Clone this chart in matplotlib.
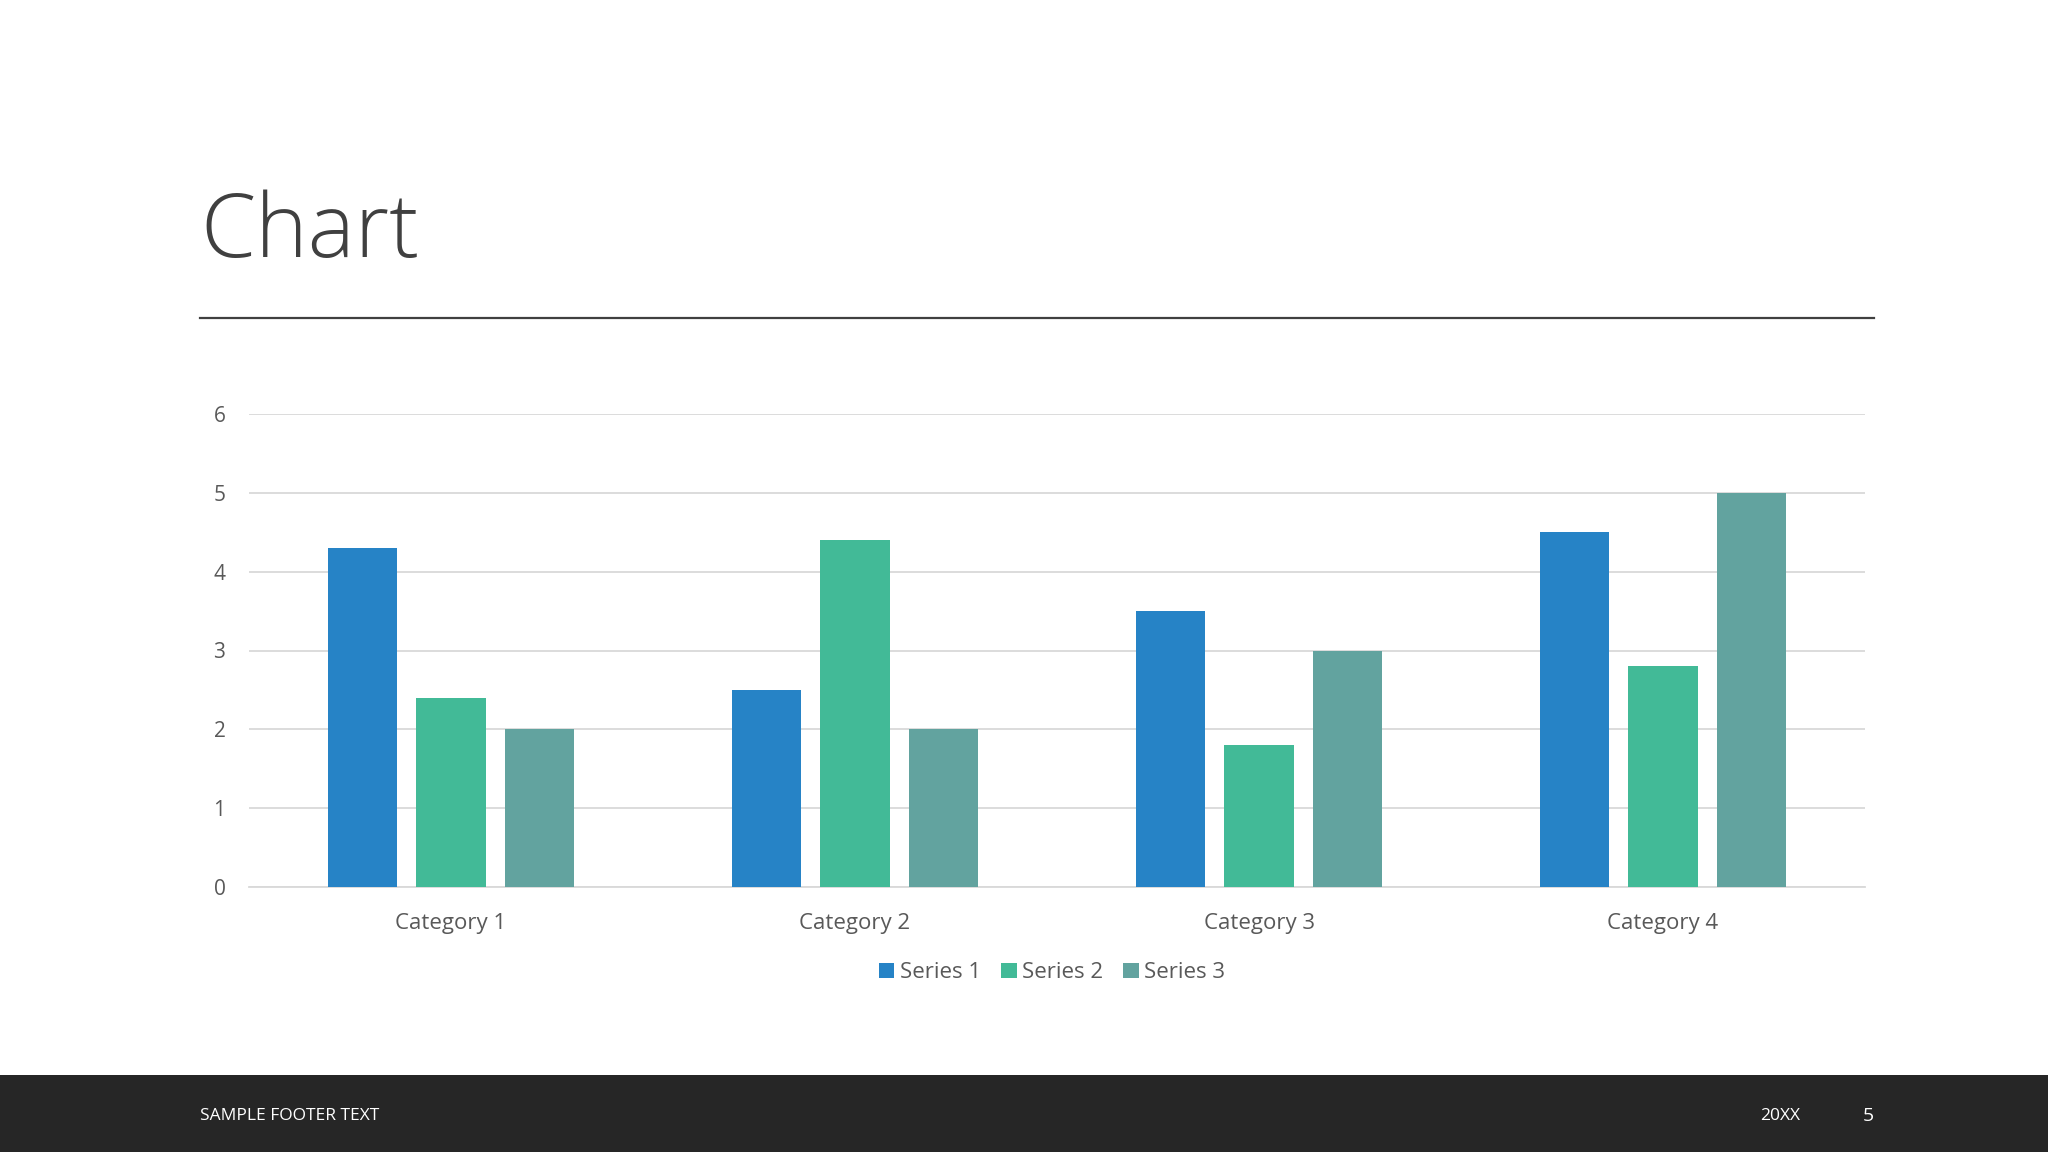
import matplotlib
matplotlib.use("Agg")
import matplotlib.pyplot as plt
import numpy as np
from matplotlib.patches import Rectangle
from matplotlib.lines import Line2D

plt.rcParams['font.family'] = ['Open Sans', 'DejaVu Sans']

categories = ["Category 1", "Category 2", "Category 3", "Category 4"]
series_names = ["Series 1", "Series 2", "Series 3"]
series1 = [4.3, 2.5, 3.5, 4.5]
series2 = [2.4, 4.4, 1.8, 2.8]
series3 = [2.0, 2.0, 3.0, 5.0]
colors = ["#2683C6", "#42BA97", "#62A39F"]
yticks = [0, 1, 2, 3, 4, 5, 6]

W, H = 2048, 1152
fig = plt.figure(figsize=(W/100, H/100), dpi=100)
fig.patch.set_facecolor("white")

# Title
fig.text(200/W, 1-257/H, "Chart", fontsize=64, color="#404040",
         ha="left", va="baseline", fontweight="light")
fig.add_artist(Line2D([200/W, 1874/W], [1-318/H, 1-318/H], color="#404040", lw=1.6))

# Footer band
fig.add_artist(Rectangle((0, 0), 1, (H-1075)/H, transform=fig.transFigure,
                         facecolor="#262626", edgecolor="none", zorder=0))
fig.text(200/W, 1-1116/H, "SAMPLE FOOTER TEXT", fontsize=12.5, color="#FFFFFF",
         ha="left", va="center")
fig.text(1760/W, 1-1116/H, "20XX", fontsize=12.5, color="#FFFFFF", ha="left", va="center")
fig.text(1863/W, 1-1116/H, "5", fontsize=14, color="#FFFFFF", ha="left", va="center")

ax = fig.add_axes([249/W, 1-887/H, (1865-249)/W, (887-414)/H])
x = np.arange(len(categories))
bw = 0.171
step = 0.22
data = [series1, series2, series3]
for i, (vals, name, c) in enumerate(zip(data, series_names, colors)):
    ax.bar(x + (i-1)*step, vals, width=bw, color=c, label=name, zorder=3)

ax.set_xlim(-0.5, len(categories)-0.5)
ax.set_ylim(0, 6)
ax.set_yticks(yticks)
ax.set_yticklabels([str(v) for v in yticks])
ax.set_xticks(x)
ax.set_xticklabels(categories)
ax.grid(axis="y", color="#D9D9D9", lw=1.3, zorder=0)
for s in ["top", "right", "left"]:
    ax.spines[s].set_visible(False)
ax.spines["bottom"].set_color("#D9D9D9")
ax.spines["bottom"].set_linewidth(1.3)
ax.tick_params(axis="both", length=0, colors="#595959")
ax.tick_params(axis="y", labelsize=15, pad=17)
ax.tick_params(axis="x", labelsize=16, pad=19)

leg = ax.legend(loc="upper center", bbox_to_anchor=(0.497, -0.117), ncol=3, frameon=False,
                fontsize=16, handlelength=0.7, handleheight=0.7, handletextpad=0.25,
                columnspacing=0.9, labelcolor="#595959")

fig.savefig("out.png", dpi=100)
